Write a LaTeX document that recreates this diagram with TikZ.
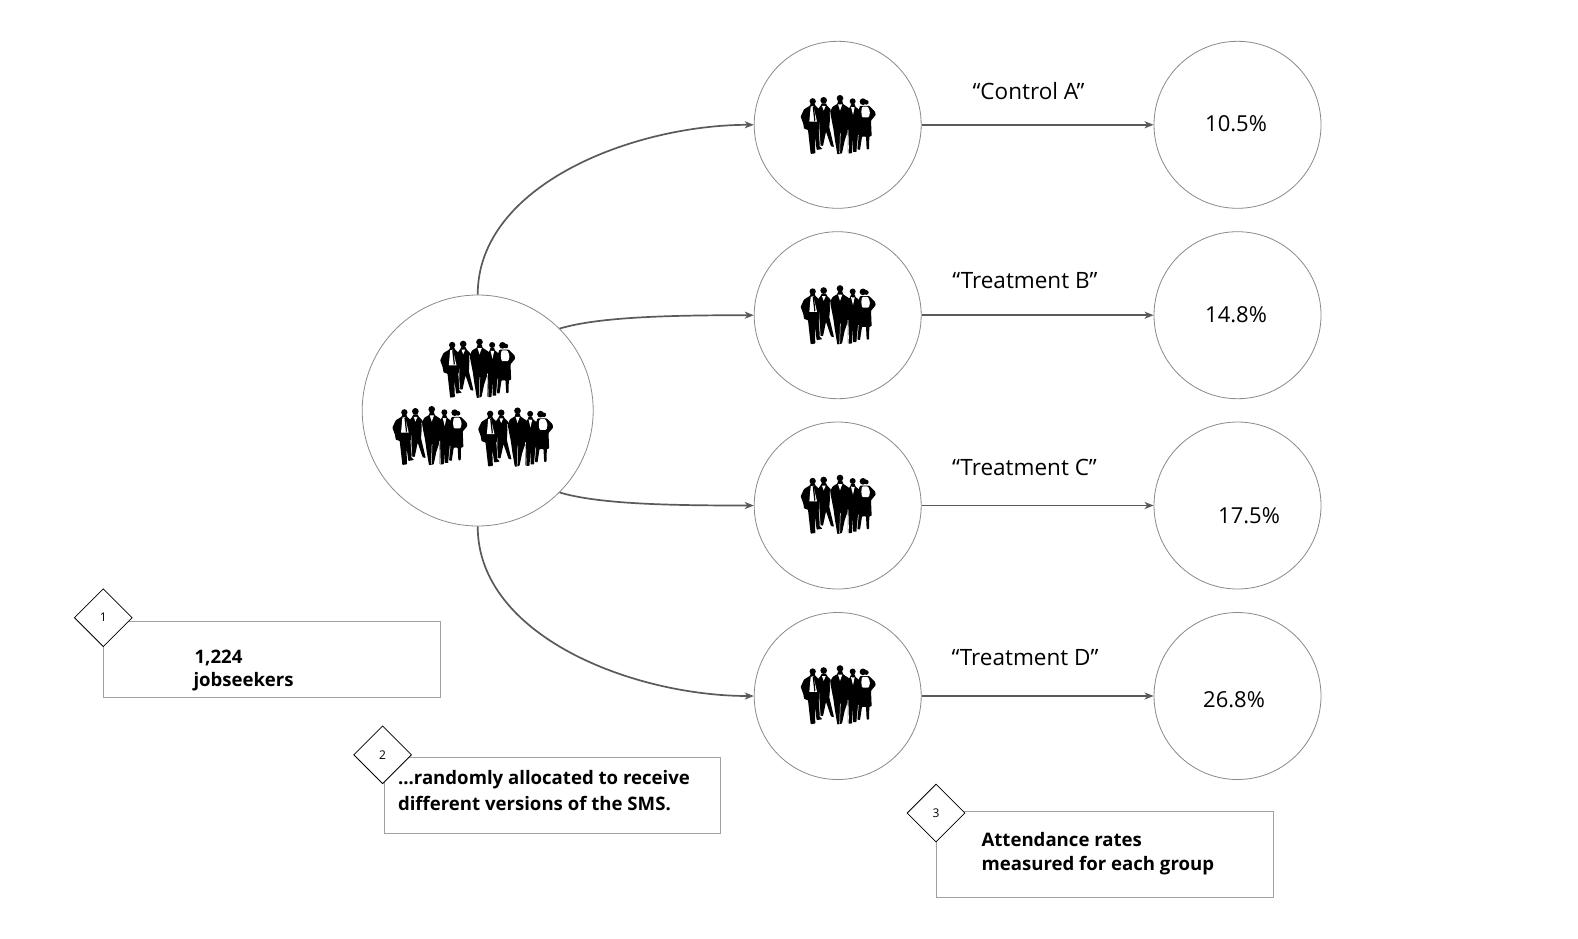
\documentclass[tikz,border=0pt]{standalone}
\usepackage{fontspec}
\setmainfont{Open Sans}
\usetikzlibrary{shapes.geometric,arrows.meta}
\definecolor{edgegray}{HTML}{8A8A8A}
\definecolor{linkgray}{HTML}{5A5A5A}
\tikzset{
  x=1pt,y=-1pt,
  ring/.style={circle,draw=edgegray,line width=0.8pt,fill=white,inner sep=0,minimum size=#1},
  ring/.default=167pt,
  infobox/.style={draw=edgegray!80,line width=0.9pt,rectangle,inner sep=0,anchor=north west},
  badge/.style={diamond,draw=black,line width=0.8pt,fill=white,inner sep=0,minimum width=58pt,minimum height=58pt,font=\fontsize{12}{12}\selectfont},
  link/.style={draw=linkgray,line width=1.5pt,-{Stealth[length=9pt,width=7pt,inset=2.5pt]}},
  arm/.style={link,line width=1.7pt},
  group label/.style={font=\fontsize{22.5}{26}\selectfont},
  pct/.style={font=\fontsize{22}{26}\selectfont},
  info/.style={anchor=west,font=\fontsize{18.6}{22}\selectfont\bfseries},
  crowd/.pic={
    \begin{scope}[x=0.3333pt,y=-0.3333pt,shift={(-174,-166)}]
      % heads and necks
      \fill[black] (98,94) circle[radius=9.5];
      \fill[black] (131,91) circle[radius=10];
      \fill[black] (180,85) circle[radius=10];
      \fill[black] (218,94) circle[radius=9];
      \fill[black] (249,95) circle[radius=10];
      \fill[black] (259,97) circle[radius=7];
      % man left
      \fill[black,rounded corners=0.6pt] (92,100) -- (104,100) -- (106,107) -- (118,118) -- (119,176) -- (118,228) -- (127,237) -- (110,240) -- (104,196) -- (106,250) -- (92,252) -- (84,180) -- (72,176) -- (70,162) -- (62,140) -- (72,118) -- (90,107) -- cycle;
      % second
      \fill[black,rounded corners=0.6pt] (125,100) -- (138,100) -- (141,107) -- (152,118) -- (148,172) -- (162,231) -- (153,229) -- (138,185) -- (129,228) -- (118,226) -- (120,170) -- (112,120) -- (122,107) -- cycle;
      % centre man
      \fill[black,rounded corners=0.6pt] (174,93) -- (187,93) -- (189,102) -- (207,114) -- (206,176) -- (194,212) -- (186,250) -- (172,253) -- (165,212) -- (160,176) -- (150,125) -- (158,110) -- (172,102) -- cycle;
      % fourth
      \fill[black,rounded corners=0.6pt] (213,102) -- (224,102) -- (226,110) -- (238,120) -- (238,190) -- (230,246) -- (219,246) -- (219,200) -- (216,250) -- (204,250) -- (203,180) -- (202,120) -- (211,110) -- cycle;
      % woman
      \fill[black,rounded corners=0.6pt] (240,108) -- (268,108) -- (285,125) -- (287,135) -- (273,152) -- (275,198) -- (268,200) -- (267,238) -- (260,238) -- (258,200) -- (246,200) -- (240,240) -- (232,238) -- (236,200) -- (232,130) -- cycle;
      % shirts and gaps
      \fill[white] (92,110) -- (100,108) -- (111,155) -- (88,155) -- cycle;
      \fill[black] (98,110) -- (102,110) -- (106,150) -- (103,155) -- cycle;
      \fill[white] (174,103) -- (187,103) -- (180,122) -- cycle;
      \fill[white] (126,108) -- (137,108) -- (131,122) -- cycle;
      \fill[white] (213,111) -- (224,112) -- (219,135) -- cycle;
      \fill[white,rounded corners=1pt] (246,110) -- (264,110) -- (270,126) -- (267,142) -- (246,142) -- (244,126) -- cycle;
      \draw[white,line width=0.5pt] (151,170) -- (166,232);
      \draw[white,line width=0.5pt] (117,178) -- (121,226);
      \draw[white,line width=0.6pt] (204,180) -- (206,250);
      \draw[white,line width=0.5pt] (235,195) -- (230,245);
      \draw[white,line width=0.5pt] (181,190) -- (179,250);
      \draw[white,line width=0.5pt] (150,125) -- (152,165);
    \end{scope}
  }
}
\begin{document}
\begin{tikzpicture}
\useasboundingbox (0,0) rectangle (1578,938);
\fill[white] (0,0) rectangle (1578,938);

% circles
\node[ring=231pt] (main) at (477.7,410.5) {};
\node[ring] (ga) at (837.7,124.8) {};
\node[ring] (gb) at (837.7,315.2) {};
\node[ring] (gc) at (837.7,505.5) {};
\node[ring] (gd) at (837.7,696) {};
\node[ring] (ra) at (1237.5,124.8) {};
\node[ring] (rb) at (1237.5,315.2) {};
\node[ring] (rc) at (1237.5,505.5) {};
\node[ring] (rd) at (1237.5,696) {};

% crowds
\pic at (477.5,369) {crowd};
\pic at (429.7,436.3) {crowd};
\pic at (515.5,437.8) {crowd};
\pic at (838,125.3) {crowd};
\pic at (838,315.5) {crowd};
\pic at (838,505) {crowd};
\pic at (838,695.5) {crowd};

% links
\draw[arm] (main.north) .. controls +(0,-110) and +(-120,0) .. (ga.west);
\draw[arm] (main.45) .. controls +(40,-12) and +(-80,0) .. (gb.west);
\draw[arm] (main.-45) .. controls +(40,12) and +(-80,0) .. (gc.west);
\draw[arm] (main.south) .. controls +(0,110) and +(-120,0) .. (gd.west);
\draw[link] (ga) -- (ra);
\draw[link] (gb) -- (rb);
\draw[link] (gc) -- (rc);
\draw[link] (gd) -- (rd);

% labels
\node[group label] (la) at (1028.5,90.8) {“Control A”};
\node[group label] (lb) at (1025,281) {“Treatment B”};
\node[group label] (lc) at (1024.5,467.5) {“Treatment C”};
\node[group label] (ld) at (1025,658) {“Treatment D”};
\node[pct] (pa) at (1236,124) {10.5\%};
\node[pct] (pb) at (1236,315) {14.8\%};
\node[pct] (pc) at (1249,516) {17.5\%};
\node[pct] (pd) at (1234,699.5) {26.8\%};

% info boxes
\node[infobox,minimum width=336.5pt,minimum height=76pt] (b1) at (103.3,621.3) {};
\node[infobox,minimum width=336.5pt,minimum height=76pt] (b2) at (383.5,757) {};
\node[infobox,minimum width=336.5pt,minimum height=85.5pt] (b3) at (936,811) {};
\node[badge] (d1) at (103.3,617.7) {1};
\node[badge] (d2) at (382.6,754.8) {2};
\node[badge] (d3) at (936,813) {3};

\node[info] (t1a) at (191,658) {1,224};
\node[info] (t1b) at (190,681.5) {jobseekers};
\node[info] (t2a) at (394.5,779.8) {...randomly allocated to receive};
\node[info] (t2b) at (394.5,803.8) {different versions of the SMS.};
\node[info] (t3a) at (978,839.5) {Attendance rates};
\node[info] (t3b) at (978,866) {measured for each group};
\end{tikzpicture}
\end{document}
